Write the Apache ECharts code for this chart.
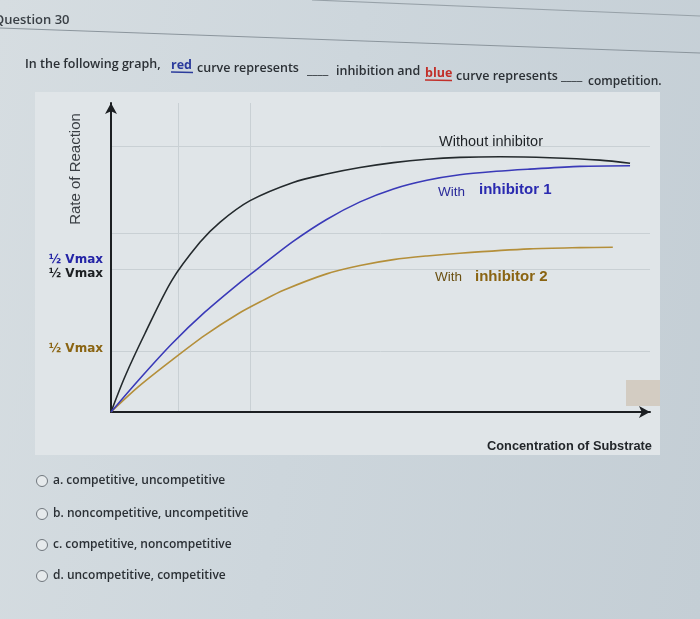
<!DOCTYPE html>
<html>
<head>
<meta charset="utf-8">
<script src="https://cdn.jsdelivr.net/npm/echarts@6/dist/echarts.min.js"></script>
<style>
html,body{margin:0;padding:0;width:700px;height:619px;overflow:hidden;
background:linear-gradient(100deg,#d6dde1 0%,#cdd6dc 45%,#c4ced5 100%);}
#c{width:700px;height:619px;}
</style>
</head>
<body>
<div id="c"></div>
<script>
// ---- data ----
const blackX = [0, 0.26, 0.63, 1.13, 1.65, 2.02, 2.58, 3.38, 4.00, 4.62, 5.24, 5.86, 6.47, 7.22, 8.14, 9.07, 9.63];
const blackY = [0, 11.5, 25.4, 42.6, 54.9, 61.4, 68.4, 74.3, 77.0, 79.1, 80.7, 81.8, 82.4, 82.6, 82.3, 81.5, 80.5];
const blueX  = [0, 0.51, 1.13, 1.74, 2.42, 2.76, 3.38, 4.00, 4.62, 5.24, 5.86, 6.47, 7.15, 7.77, 8.70, 9.63];
const blueY  = [0, 10.3, 22.1, 32.3, 42.3, 46.9, 55.2, 62.3, 68.0, 72.2, 75.0, 76.8, 77.9, 78.6, 79.5, 79.7];
const orangeX = [0, 0.51, 1.13, 1.74, 2.36, 2.83, 3.20, 4.00, 4.62, 5.24, 5.86, 6.47, 7.77, 8.70, 9.31];
const orangeY = [0, 8.2, 16.8, 24.8, 31.8, 36.2, 39.4, 44.7, 47.4, 49.3, 50.5, 51.4, 52.8, 53.2, 53.3];
const yLabelValues = [49.1, 44.6, 20.3];
const yLabelTexts = ['½ Vmax', '½ Vmax', '½ Vmax'];
const gridYValues = [86.1, 57.8, 46.2, 19.7];
const gridXValues = [1.24, 2.58];
const answers = ['a. competitive, uncompetitive', 'b. noncompetitive, uncompetitive',
                 'c. competitive, noncompetitive', 'd. uncompetitive, competitive'];

const zip = (xs, ys) => xs.map((x, i) => [x, ys[i]]);
const labelStyleKeys = ['bl', 'bk', 'or'];

const chart = echarts.init(document.getElementById('c'));
const txtFont = '600 12.5px "Open Sans"';
const dark = '#2b3035';

const graphics = [
  {type:'rect', shape:{x:35,y:92,width:625,height:363}, style:{fill:'#e0e5e8'}, z:-10},
  {type:'rect', shape:{x:626,y:380,width:34,height:26}, style:{fill:'#d3ccc2'}, z:-9},
  {type:'line', shape:{x1:312,y1:0,x2:700,y2:16}, style:{stroke:'#97a1a8',lineWidth:1.2}},
  {type:'line', shape:{x1:0,y1:28,x2:700,y2:53}, style:{stroke:'#8b959c',lineWidth:1.2}},
  {type:'text', x:-6, y:20, style:{text:'Question 30', font:'600 13px "Open Sans"', fill:'#3a4046', textVerticalAlign:'middle'}},
  {type:'text', x:25, y:64, style:{text:'In the following graph,', font:txtFont, fill:dark, textVerticalAlign:'middle'}},
  {type:'text', x:171, y:65, style:{text:'red', font:'bold 12.5px "Open Sans"', fill:'#2c3c9c', textVerticalAlign:'middle'}},
  {type:'line', shape:{x1:171,y1:72,x2:193,y2:72.5}, style:{stroke:'#2c3c9c',lineWidth:1.3}},
  {type:'text', x:197, y:68, style:{text:'curve represents', font:txtFont, fill:dark, textVerticalAlign:'middle'}},
  {type:'text', x:307, y:70, style:{text:'____', font:txtFont, fill:dark, textVerticalAlign:'middle'}},
  {type:'text', x:336, y:71, style:{text:'inhibition and', font:txtFont, fill:dark, textVerticalAlign:'middle'}},
  {type:'text', x:425, y:73, style:{text:'blue', font:'bold 12.5px "Open Sans"', fill:'#c2302a', textVerticalAlign:'middle'}},
  {type:'line', shape:{x1:425,y1:80,x2:452,y2:80.5}, style:{stroke:'#c2302a',lineWidth:1.3}},
  {type:'text', x:456, y:76, style:{text:'curve represents', font:txtFont, fill:dark, textVerticalAlign:'middle'}},
  {type:'text', x:561, y:76, style:{text:'____', font:txtFont, fill:dark, textVerticalAlign:'middle'}},
  {type:'text', x:588, y:82, style:{text:'competition.', font:'600 12px "Open Sans"', fill:dark, textVerticalAlign:'middle'}},
  {type:'text', x:76, y:169, rotation:Math.PI/2, style:{text:'Rate of Reaction', font:'15px "Liberation Sans"', fill:'#3a3f44', textAlign:'center', textVerticalAlign:'middle'}},
  {type:'text', x:439, y:142, style:{text:'Without inhibitor', font:'14.5px "Liberation Sans"', fill:'#1e2226', textVerticalAlign:'middle'}},
  {type:'text', x:438, y:192, style:{text:'With', font:'13.5px "Liberation Sans"', fill:'#2a2a9a', textVerticalAlign:'middle'}},
  {type:'text', x:479, y:190, style:{text:'inhibitor 1', font:'bold 15px "Liberation Sans"', fill:'#2a2ab0', textVerticalAlign:'middle'}},
  {type:'text', x:435, y:277, style:{text:'With', font:'13.5px "Liberation Sans"', fill:'#6a5012', textVerticalAlign:'middle'}},
  {type:'text', x:475, y:277, style:{text:'inhibitor 2', font:'bold 15px "Liberation Sans"', fill:'#8a6412', textVerticalAlign:'middle'}},
  {type:'text', x:487, y:446, style:{text:'Concentration of Substrate', font:'bold 12.8px "Liberation Sans"', fill:'#22262a', textVerticalAlign:'middle'}}
];
const answerY = [481, 514, 545, 576];
answers.forEach((a, i) => {
  graphics.push({type:'circle', shape:{cx:42, cy:answerY[i], r:5.5}, style:{fill:'#e6eaec', stroke:'#6f767c', lineWidth:1}});
  graphics.push({type:'text', x:53, y:answerY[i], style:{text:a, font:'600 12px "Open Sans"', fill:dark, textVerticalAlign:'middle'}});
});

const gridMarks = gridYValues.map(v => ({yAxis: v})).concat(gridXValues.map(v => ({xAxis: v})));

chart.setOption({
  animation:false,
  grid:{left:111, top:103, right:50, bottom:207},
  xAxis:{type:'value', min:0, max:10,
    axisLine:{show:true, onZero:false, lineStyle:{color:'#1c1f22', width:2}, symbol:['none','arrow'], symbolSize:[9,11]},
    axisTick:{show:false}, axisLabel:{show:false}, splitLine:{show:false}},
  yAxis:{type:'value', min:0, max:100,
    axisLine:{show:true, onZero:false, lineStyle:{color:'#1c1f22', width:2}, symbol:['none','arrow'], symbolSize:[9,11]},
    axisTick:{show:false}, splitLine:{show:false},
    axisLabel:{show:true, customValues:yLabelValues, margin:8,
      formatter:function(v){
        const i = yLabelValues.indexOf(v);
        return i < 0 ? '' : '{' + labelStyleKeys[i] + '|' + yLabelTexts[i] + '}';
      },
      rich:{
        bl:{color:'#2424a6', fontWeight:'bold', fontSize:12, fontFamily:'DejaVu Sans'},
        bk:{color:'#1c1f22', fontWeight:'bold', fontSize:12, fontFamily:'DejaVu Sans'},
        or:{color:'#8a6412', fontWeight:'bold', fontSize:12, fontFamily:'DejaVu Sans'}
      }}},
  graphic:graphics,
  series:[
    {type:'line', name:'grid', data:[[0,0]], showSymbol:false, lineStyle:{opacity:0}, z:0, silent:true,
     markLine:{silent:true, symbol:'none', label:{show:false}, z:0, lineStyle:{color:'#c9d0d4', width:1, type:'solid'}, data:gridMarks}},
    {type:'line', name:'Without inhibitor', data:zip(blackX, blackY), smooth:0.3, showSymbol:false,
     lineStyle:{color:'#242a2d', width:1.6}, z:3},
    {type:'line', name:'With inhibitor 1', data:zip(blueX, blueY), smooth:0.3, showSymbol:false,
     lineStyle:{color:'#3a3ab8', width:1.6}, z:4},
    {type:'line', name:'With inhibitor 2', data:zip(orangeX, orangeY), smooth:0.3, showSymbol:false,
     lineStyle:{color:'#b48f3a', width:1.6}, z:2}
  ]
});
</script>
</body>
</html>
